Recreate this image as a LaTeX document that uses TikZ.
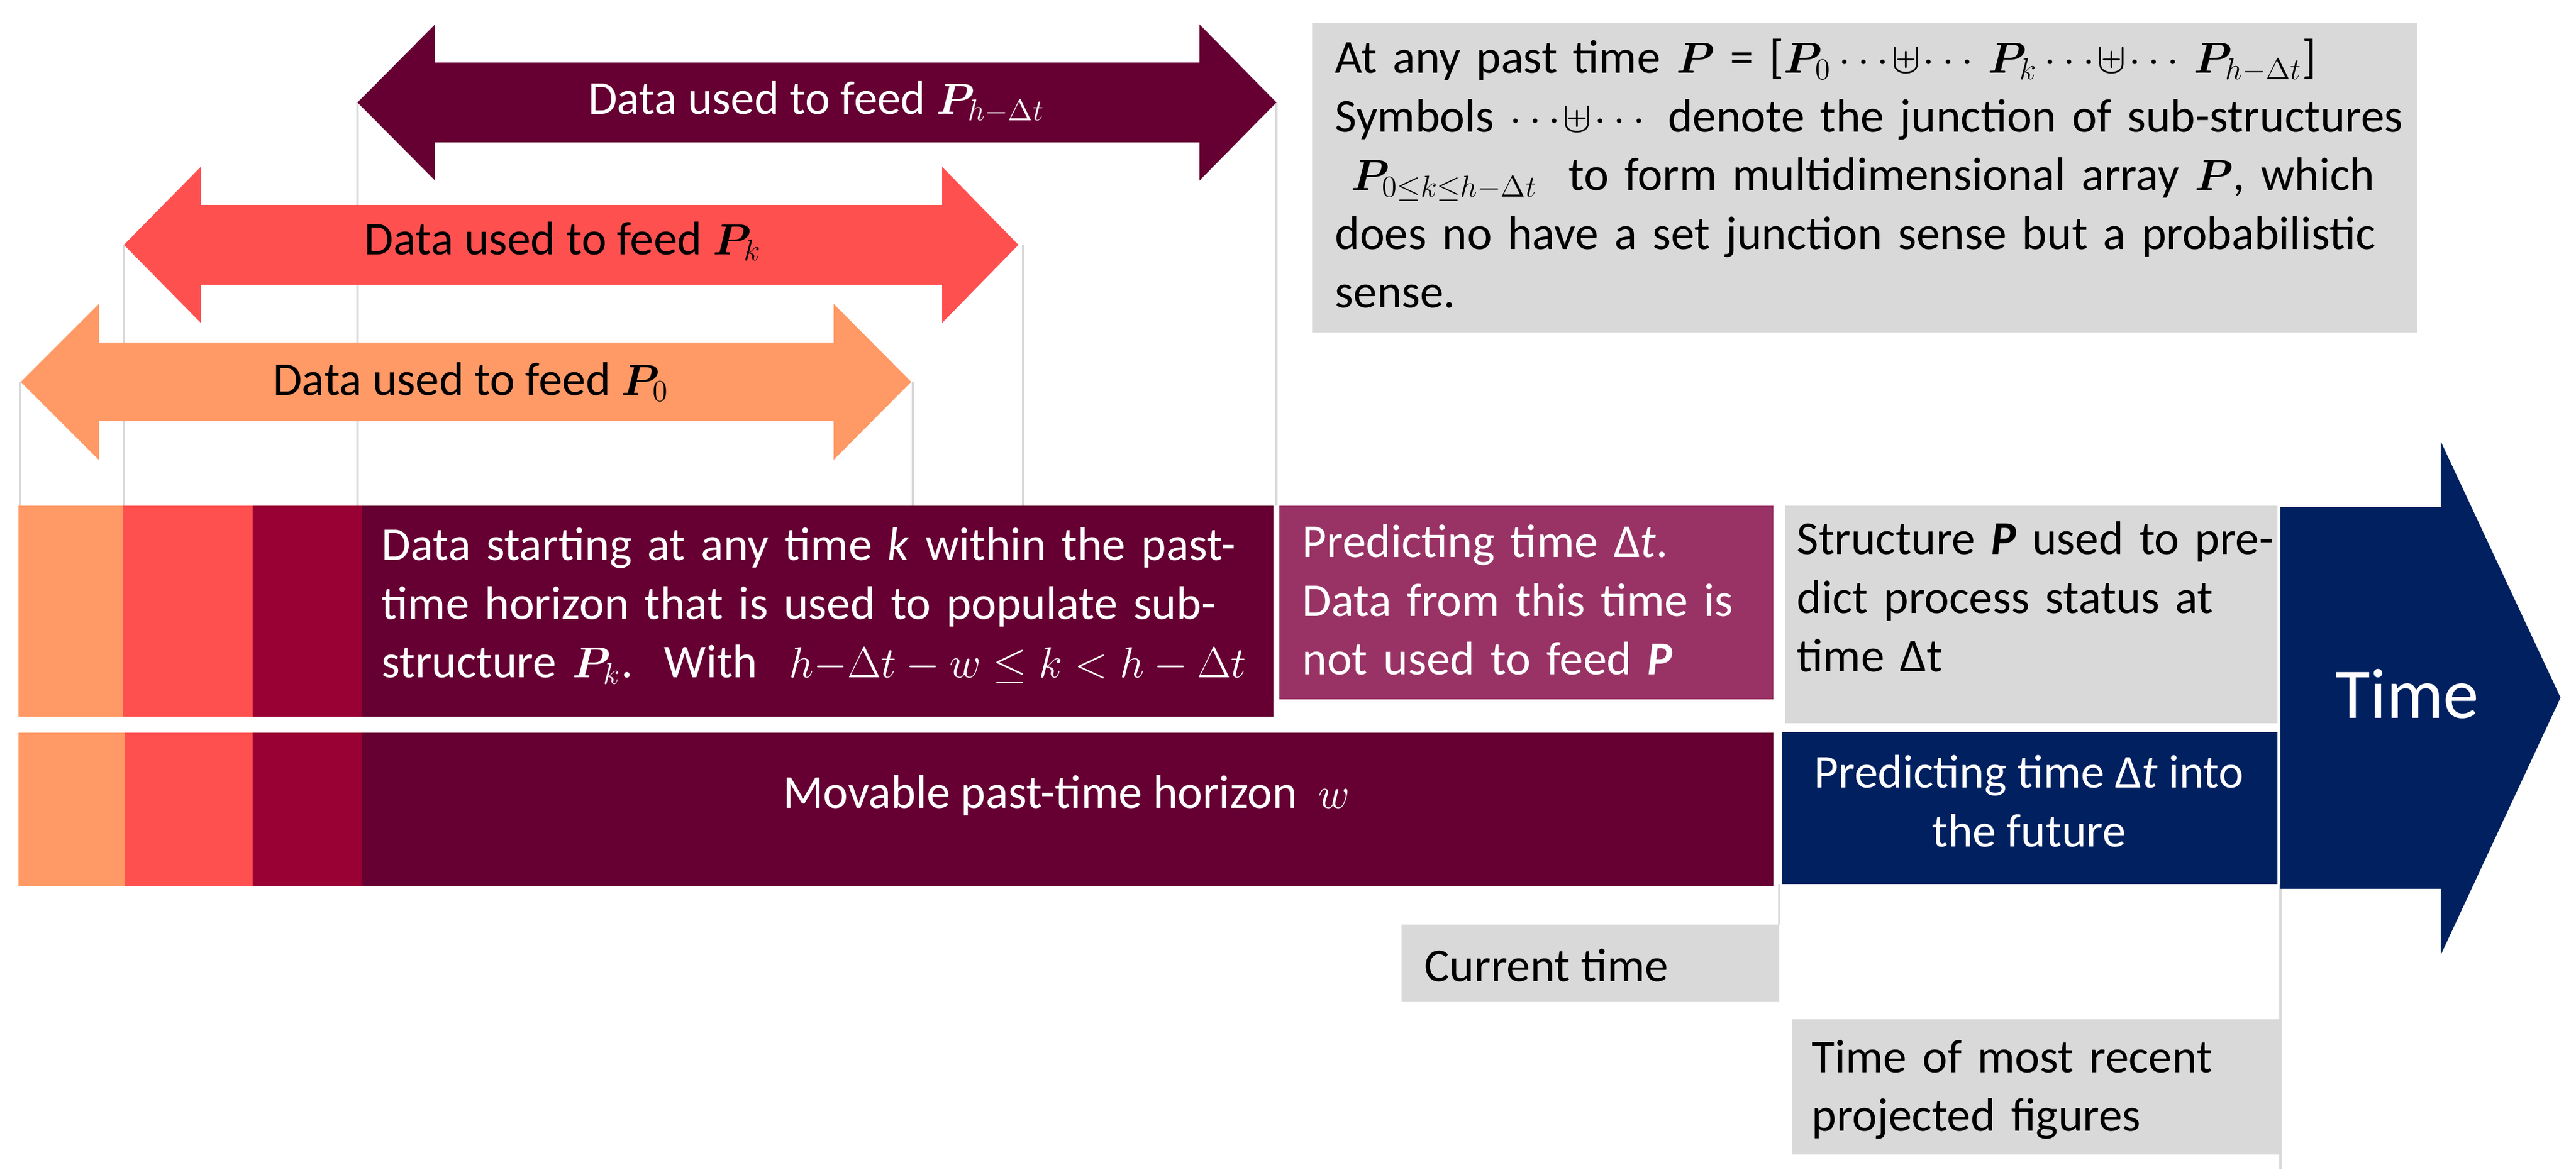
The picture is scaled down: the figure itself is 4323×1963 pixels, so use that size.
\documentclass[tikz,border=0pt]{standalone}
\usepackage{amsmath,bm}
\usepackage{fontspec}
\setmainfont{Carlito}
\definecolor{cor}{HTML}{FF9966}
\definecolor{cred}{HTML}{FF5050}
\definecolor{ccr}{HTML}{990033}
\definecolor{cdk}{HTML}{660033}
\definecolor{cpu}{HTML}{993366}
\definecolor{cnv}{HTML}{002060}
\definecolor{cgr}{HTML}{D9D9D9}
\begin{document}
\begin{tikzpicture}[x=0.01cm,y=-0.01cm,
  txt/.style={font=\fontsize{22.5}{28}\selectfont,inner sep=0pt},
  wtxt/.style={txt,text=white},
  vline/.style={draw=cgr,line width=1.2pt}]
\useasboundingbox (0,0) rectangle (4323,1963);
\newcommand{\dblarrow}[8]{% color, xl, xbl, xbr, xr, ycenter, shaft half, head half
  \fill[#1] (#2,#6) -- (#3,#6-#8) -- (#3,#6-#7) -- (#4,#6-#7) -- (#4,#6-#8) -- (#5,#6)
   -- (#4,#6+#8) -- (#4,#6+#7) -- (#3,#6+#7) -- (#3,#6+#8) -- cycle;}
\draw[vline] (34,641) -- (34,849);
\draw[vline] (208,411) -- (208,849);
\draw[vline] (600,172) -- (600,849);
\draw[vline] (1532,641) -- (1532,849);
\draw[vline] (1717,411) -- (1717,849);
\draw[vline] (2142,172) -- (2142,849);
\draw[vline] (2986,1484) -- (2986,1552);
\draw[vline] (3827,1484) -- (3827,1963);
\dblarrow{cdk}{600}{730}{2013}{2142}{172}{67}{131}
\dblarrow{cred}{208}{337}{1581}{1709}{411}{67}{131}
\dblarrow{cor}{35}{166}{1399}{1529}{641}{66}{131}
\node[wtxt] (ah) at (1370,172) {Data used to feed $\bm{P}_{h-\Delta t}$};
\node[txt] (ak) at (945,405) {Data used to feed $\bm{P}_k$};
\node[txt] (a0) at (790,641) {Data used to feed $\bm{P}_0$};
\fill[cor] (31,849) rectangle (206,1203);
\fill[cred] (206,849) rectangle (424,1203);
\fill[ccr] (424,849) rectangle (607,1203);
\fill[cdk] (607,849) rectangle (2137,1203);
\fill[cor] (31,1230) rectangle (210,1488);
\fill[cred] (210,1230) rectangle (424,1488);
\fill[ccr] (424,1230) rectangle (607,1488);
\fill[cdk] (607,1230) rectangle (2976,1488);
\node[wtxt,anchor=north west,text width=14.9cm,align=left] (b1) at (640,885)
 {Data starting at any time \textit{k} within the past-time horizon that is used to populate sub-structure $\bm{P}_k$.\ \ With\ \ $h{-}\Delta t - w \le k < h - \Delta t$};
\node[wtxt] (b2) at (1790,1335) {Movable past-time horizon\ \ $w$};
\fill[cpu] (2147,849) rectangle (2976,1174);
\node[wtxt,anchor=north west,text width=8cm,align=left] (pu) at (2185,880)
 {Predicting time Δ\textit{t}.\\ Data from this time is\\ not used to feed \textbf{\textit{P}}};
\fill[cgr] (2996,849) rectangle (3822,1214);
\node[txt,anchor=north west,text width=8.1cm,align=left] (st) at (3015,875)
 {Structure \textbf{\textit{P}} used to predict process status at time Δt};
\fill[cnv] (2990,1229) rectangle (3822,1484);
\node[wtxt,align=center] (nv) at (3405,1345) {Predicting time Δ\textit{t} into\\ the future};
\fill[cnv] (3827,851) -- (4096,851) -- (4096,741) -- (4297,1171) -- (4096,1603) -- (4096,1492) -- (3827,1492) -- cycle;
\node[text=white,font=\fontsize{34}{40}\selectfont,inner sep=0pt] (tm) at (4040,1165) {Time};
\fill[cgr] (2202,38) rectangle (4056,558);
\node[txt,anchor=north west,text width=18cm,align=left] (info) at (2240,65)
 {At any past time $\bm{P}$ = [$\bm{P}_0\cdots\!\uplus\!\cdots\,\bm{P}_k\cdots\!\uplus\!\cdots\,\bm{P}_{h-\Delta t}$]\\
 Symbols $\cdots\!\uplus\!\cdots$ denote the junction of sub-structures\\
 \ $\bm{P}_{0\le k\le h-\Delta t}$\ \ to form multidimensional array $\bm{P}$, which\\
 does no have a set junction sense but a probabilistic\\ sense.};
\fill[cgr] (2352,1552) rectangle (2986,1681);
\node[txt,anchor=west] (ct) at (2390,1620) {Current time};
\fill[cgr] (3007,1711) rectangle (3827,1938);
\node[txt,anchor=north west,text width=7.6cm,align=left] (rc) at (3040,1745) {Time of most recent projected figures};
\end{tikzpicture}
\end{document}
